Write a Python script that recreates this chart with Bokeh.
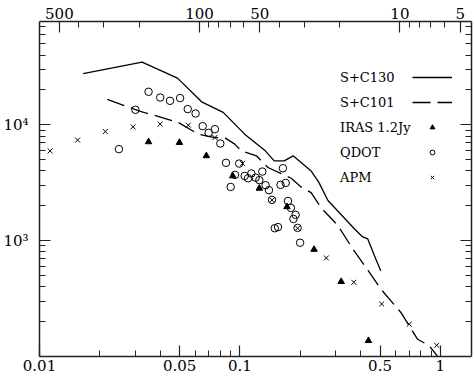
import numpy as np
from bokeh.plotting import figure
from bokeh.models import LogAxis, FixedTicker, CustomJSTickFormatter, Range1d, Legend, LegendItem
from bokeh.embed import file_html
from bokeh.resources import INLINE

# ---------------- data ----------------
sc130_k = [0.0165, 0.0325, 0.0488, 0.0644, 0.0825, 0.1056, 0.1338, 0.1483, 0.1663,
           0.1842, 0.2265, 0.248, 0.2749, 0.373, 0.410, 0.4345, 0.4689, 0.504]
sc130_p = [27700, 34800, 25300, 15800, 12800, 8310, 5960, 4890, 4890,
           5400, 4000, 3170, 2220, 1262, 1077, 1035, 741, 551]

sc101_k = [0.0218, 0.0313, 0.0494, 0.062, 0.0747, 0.0838, 0.0942, 0.1017, 0.1208,
           0.138, 0.1607, 0.1802, 0.2019, 0.2265, 0.2537, 0.3083, 0.366, 0.4427,
           0.504, 0.6353, 0.769, 0.879, 0.966]
sc101_p = [16560, 13210, 10470, 8310, 7760, 7760, 6810, 5960, 5400,
           4280, 3790, 3460, 2910, 2600, 1930, 1350, 847, 533,
           383, 240, 141, 124, 101]

iras_k = [0.035, 0.0499, 0.068, 0.0921, 0.125, 0.1716, 0.2343, 0.32, 0.4377]
iras_p = [7130, 7030, 5400, 3620, 2830, 1960, 839, 443, 137]

qdot_k = [0.0249, 0.0301, 0.0350, 0.0400, 0.0448, 0.0503, 0.0549, 0.0601, 0.0652,
          0.0698, 0.0750, 0.0798, 0.0852, 0.0899, 0.0945, 0.0991, 0.1056, 0.1098,
          0.1140, 0.1198, 0.1250, 0.1293, 0.1343, 0.1396, 0.1445, 0.1492, 0.1549,
          0.1594, 0.1638, 0.1692, 0.1737, 0.1795, 0.1849, 0.1896, 0.1940, 0.1996]
qdot_p = [6170, 13480, 19290, 17220, 16120, 17020, 13670, 12520, 9740,
          8530, 9180, 6900, 4700, 2910, 3700, 4630, 3620, 3460,
          3800, 3500, 3330, 3950, 3010, 2730, 2250, 1280, 1310,
          3030, 4220, 3150, 2200, 1920, 1540, 1670, 1290, 960]

apm_k = [0.0113, 0.0155, 0.0213, 0.0293, 0.040, 0.0553, 0.075, 0.103, 0.1445,
         0.1940, 0.2697, 0.370, 0.5095, 0.6995, 0.959]
apm_p = [5960, 7380, 8750, 9610, 10140, 9940, 7760, 4650, 2240,
         1280, 709, 437, 284, 190, 125]

x_major = [0.01, 0.05, 0.1, 0.5, 1]
x_labels = ["0.01", "0.05", "0.1", "0.5", "1"]
x_minor = [0.02, 0.03, 0.04, 0.06, 0.07, 0.08, 0.09, 0.2, 0.3, 0.4, 0.6, 0.7, 0.8, 0.9]

lam_major = [500, 100, 50, 10, 5]
lam_labels = ["500", "100", "50", "10", "5"]
lam_minor = [400, 300, 200, 90, 80, 70, 60, 40, 30, 20, 9, 8, 7, 6]

y_major = [1000, 10000]
y_labels = ["10³", "10⁴"]
y_minor = [200, 300, 400, 500, 600, 700, 800, 900,
           2000, 3000, 4000, 5000, 6000, 7000, 8000, 9000,
           20000, 30000, 40000, 50000, 60000, 70000]

series_names = ["S+C130", "S+C101", "IRAS 1.2Jy", "QDOT", "APM"]

# ---------------- figure ----------------
FONT = "DejaVu Serif"
p = figure(width=474, height=376, x_axis_type="log", y_axis_type="log",
           x_range=Range1d(0.01, 1.43), y_range=Range1d(100, 78000),
           output_backend="svg", toolbar_location=None,
           min_border_left=37, min_border_right=3, min_border_top=21, min_border_bottom=20)
p.grid.visible = False
p.outline_line_color = None
p.background_fill_color = "white"
p.border_fill_color = "white"

fmt_code = """
for (let i = 0; i < vals.length; i++) {
  if (Math.abs(vals[i] - tick) <= 1e-9 * Math.abs(vals[i])) return labs[i];
}
return "";
"""

def style_axis(ax, standoff):
    ax.axis_line_color = "#222222"
    ax.axis_line_width = 1.5
    ax.major_tick_in = 11
    ax.major_tick_out = 0
    ax.minor_tick_in = 6
    ax.minor_tick_out = 0
    ax.major_tick_line_color = "#222222"
    ax.minor_tick_line_color = "#222222"
    ax.major_tick_line_width = 1.2
    ax.minor_tick_line_width = 1.0
    ax.major_label_text_font = FONT
    ax.major_label_text_font_size = "15px"
    ax.major_label_text_color = "black"
    ax.major_label_standoff = standoff

# bottom axis (k)
xb = p.xaxis[0]
xb.ticker = FixedTicker(ticks=x_major, minor_ticks=x_minor)
xb.formatter = CustomJSTickFormatter(args=dict(vals=x_major, labs=x_labels), code=fmt_code)
style_axis(xb, 3)

# left axis
yl = p.yaxis[0]
yl.ticker = FixedTicker(ticks=y_major, minor_ticks=y_minor)
yl.formatter = CustomJSTickFormatter(args=dict(vals=y_major, labs=y_labels), code=fmt_code)
style_axis(yl, 11)

# top axis (wavelength 2*pi/k)
top_pos = [2 * np.pi / l for l in lam_major]
top_minor = [2 * np.pi / l for l in lam_minor]
xt = LogAxis(ticker=FixedTicker(ticks=top_pos, minor_ticks=top_minor),
             formatter=CustomJSTickFormatter(args=dict(vals=top_pos, labs=lam_labels), code=fmt_code))
style_axis(xt, 3)
p.add_layout(xt, "above")

# right axis (ticks only)
yr = LogAxis(ticker=FixedTicker(ticks=y_major, minor_ticks=y_minor),
             formatter=CustomJSTickFormatter(code="return '';"))
style_axis(yr, 0)
yr.major_label_text_font_size = "0px"
p.add_layout(yr, "right")

# ---------------- data glyphs ----------------
r1 = p.line(sc130_k, sc130_p, line_color="black", line_width=1.3)
r2 = p.line(sc101_k, sc101_p, line_color="black", line_width=1.3, line_dash="18 7")
r3 = p.scatter(iras_k, iras_p, marker="triangle", size=6.5, fill_color="black", line_color="black")
r4 = p.scatter(qdot_k, qdot_p, marker="circle", size=7.5, fill_color=None, line_color="black", line_width=1)
r5 = p.scatter(apm_k, apm_p, marker="x", size=7, line_color="black", line_width=1)
renderers = [r1, r2, r3, r4, r5]

common = dict(orientation="vertical", glyph_height=12, label_height=20, spacing=5,
              padding=0, margin=0, border_line_color=None, background_fill_alpha=0,
              label_text_font=FONT, label_text_font_size="13px", label_text_color="black",
              label_standoff=0)

# legend texts (left column)
legend_text = Legend(items=[LegendItem(label=n, renderers=[]) for n in series_names],
                     location=(301, 169), glyph_width=0, **common)
# legend samples (right column)
legend_glyph = Legend(items=[LegendItem(label=" ", renderers=[r]) for r in renderers],
                      location=(373, 169), glyph_width=40, **common)
p.add_layout(legend_text)
p.add_layout(legend_glyph)

open("out.html", "w").write(file_html(p, INLINE))
